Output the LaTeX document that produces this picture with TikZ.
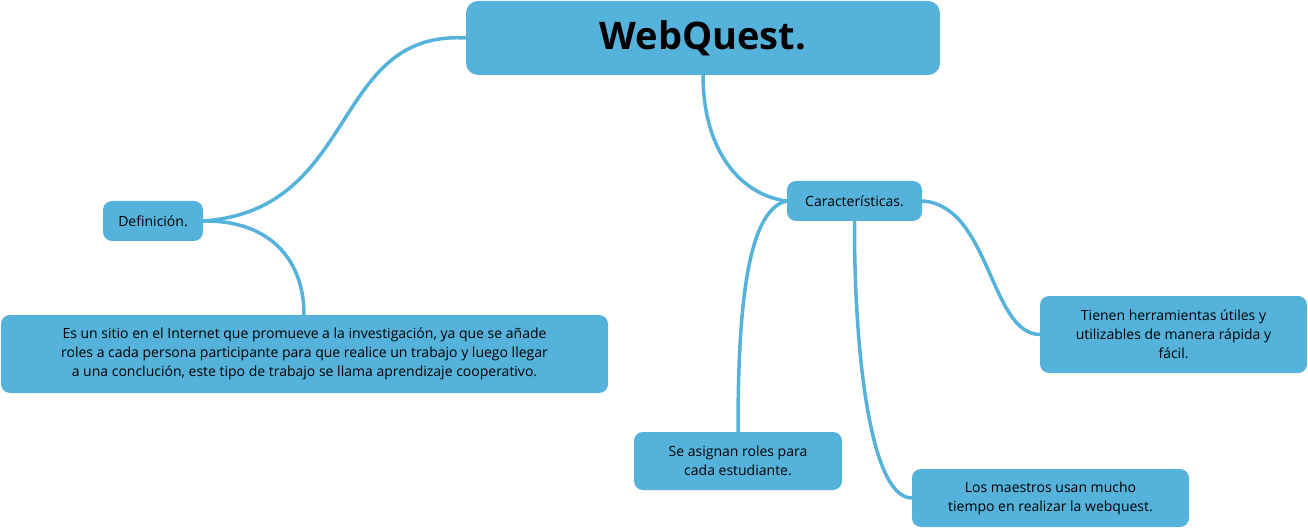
\documentclass[tikz,border=0pt]{standalone}
\usepackage{fontspec}
\setmainfont{Open Sans}
\definecolor{nb}{HTML}{55B3DB}
\begin{document}
\begin{tikzpicture}[x=1pt,y=-1pt,
 box/.style={fill=nb,rounded corners=9pt,align=center,inner sep=0pt,font=\fontsize{14}{19}\selectfont},
 con/.style={draw=nb,line width=3.5pt,line cap=round}]
\useasboundingbox (0,0) rectangle (1308,529);
\node[box,minimum width=474,minimum height=74,rounded corners=12pt,font=\fontsize{38}{40}\selectfont\bfseries] (w) at (703,38) {WebQuest.};
\node[box,minimum width=100,minimum height=40] (d) at (153,221) {Definición.};
\node[box,minimum width=607,minimum height=78] (dt) at (304.5,354) {Es un sitio en el Internet que promueve a la investigación, ya que se añade\\roles a cada persona participante para que realice un trabajo y luego llegar\\a una conclución, este tipo de trabajo se llama aprendizaje cooperativo.};
\node[box,minimum width=135,minimum height=40] (c) at (854.5,201) {Características.};
\node[box,minimum width=267,minimum height=77] (t) at (1173.5,334.5) {Tienen herramientas útiles y\\utilizables de manera rápida y\\fácil.};
\node[box,minimum width=208,minimum height=58] (s) at (738,461) {Se asignan roles para\\cada estudiante.};
\node[box,minimum width=277,minimum height=58] (m) at (1050.5,498) {Los maestros usan mucho\\tiempo en realizar la webquest.};
\begin{scope}[on background layer/.style={}]
\end{scope}
\draw[con] (w.west) .. controls (330,30) and (360,210) .. (d.east);
\draw[con] (d.east) .. controls (270,220) and (304,260) .. (dt.north -| 304,0);
\draw[con] (w.south -| 703,0) .. controls (703,150) and (740,195) .. (c.west);
\draw[con] (c.west) .. controls (745,210) and (738,320) .. (s.north);
\draw[con] (c.south) .. controls (854,350) and (870,498) .. (m.west);
\draw[con] (c.east) .. controls (990,205) and (990,334) .. (t.west);
\end{tikzpicture}
\end{document}
